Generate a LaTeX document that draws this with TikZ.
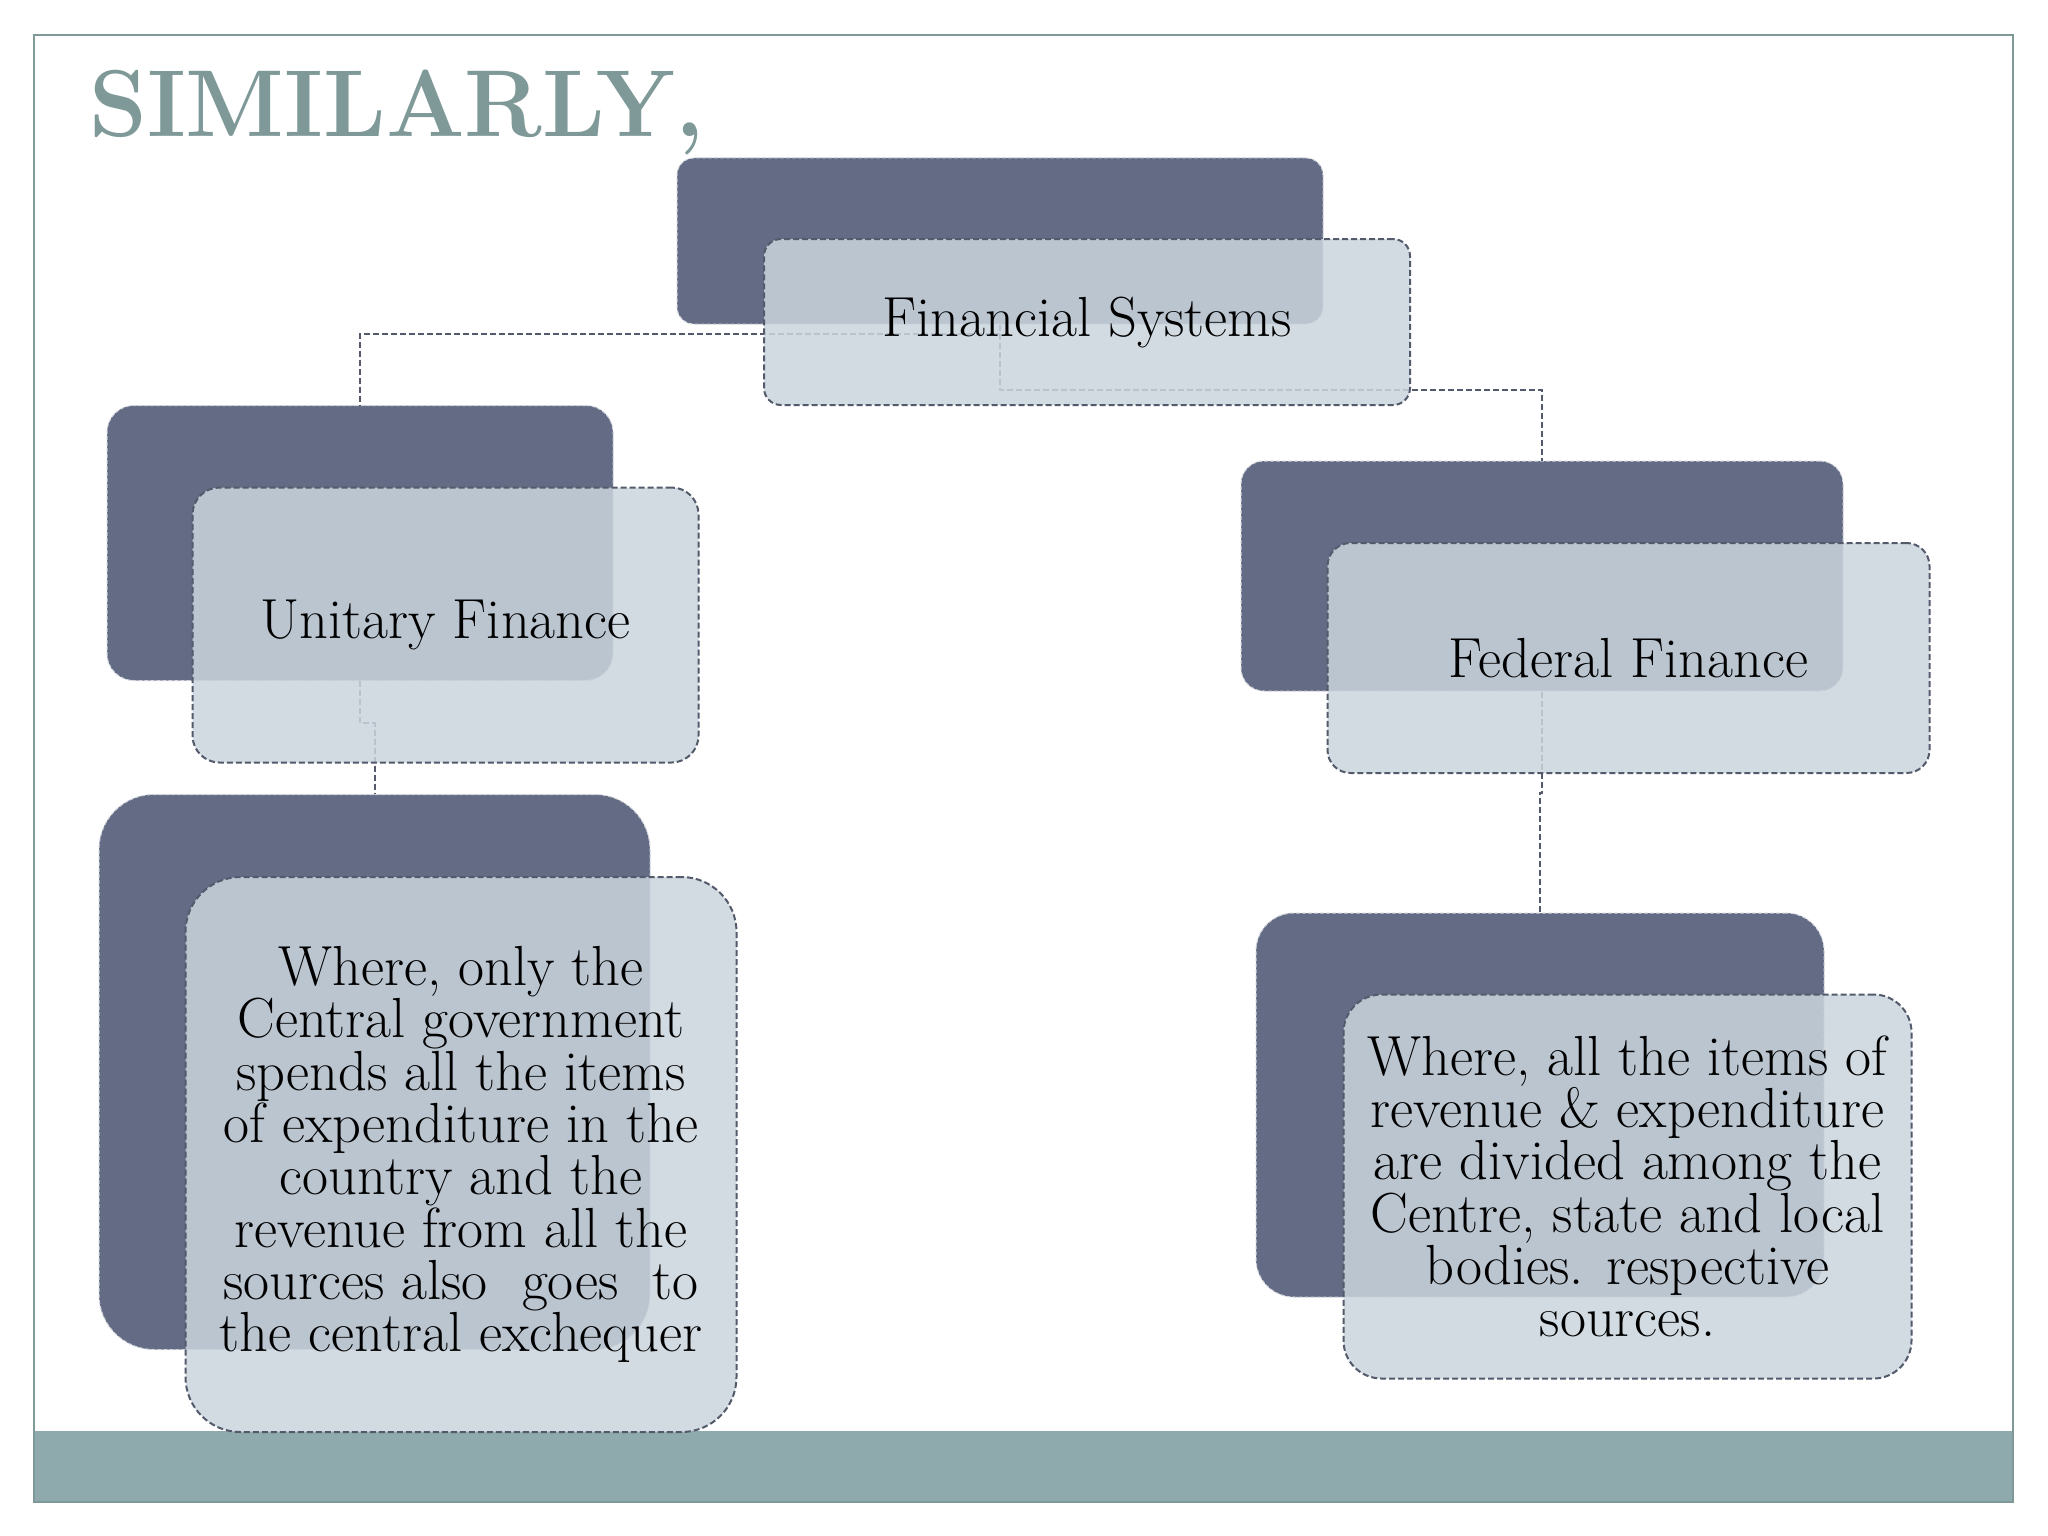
\documentclass[tikz,border=0pt]{standalone}
\usepackage{graphicx}
\usepackage{tikz}
\usetikzlibrary{calc}
\definecolor{slate}{HTML}{636B85}
\definecolor{mist}{HTML}{CBD5DE}
\definecolor{edgegray}{HTML}{545A6C}
\definecolor{sage}{HTML}{7F9999}
\definecolor{bandteal}{HTML}{8FAAAC}

\begin{document}
\begin{tikzpicture}[x=1pt, y=-1pt,
  every node/.style={inner sep=0pt, font=\fontsize{56.5}{52.3}\selectfont},
  backbox/.style={rectangle, fill=slate, draw=white!70!slate, dash pattern=on 4pt off 2pt, line width=1pt},
  frontbox/.style={rectangle, fill=mist, fill opacity=0.85, text opacity=1, draw=edgegray, dash pattern=on 6pt off 3pt, line width=2pt, align=center},
  link/.style={draw=edgegray, dash pattern=on 6pt off 3pt, line width=2pt}]
  \useasboundingbox (0,0) rectangle (2048,1536);
  \fill[white] (0,0) rectangle (2048,1536);
  % slide frame and footer band
  \fill[bandteal] (34,1431) rectangle (2013,1502);
  \draw[sage, line width=2pt] (34,35) rectangle (2013,1502);
  \node[anchor=base west, text=sage, font=\fontsize{95}{100}\selectfont\bfseries] (title) at (89,137) {\scalebox{0.975}[1]{SIMILARLY,}};
  % back cards
  \node[backbox, minimum width=646pt, minimum height=166pt, rounded corners=17pt] (fs-back) at (1000, 241) {};
  \node[backbox, minimum width=506pt, minimum height=275pt, rounded corners=27pt] (uf-back) at (360, 543) {};
  \node[backbox, minimum width=602pt, minimum height=230pt, rounded corners=23pt] (ff-back) at (1542, 576) {};
  \node[backbox, minimum width=551pt, minimum height=555pt, rounded corners=55pt] (ud-back) at (374.5, 1072) {};
  \node[backbox, minimum width=568pt, minimum height=384pt, rounded corners=38pt] (fd-back) at (1540, 1105) {};
  % connectors
  \draw[link] (fs-back.south) -- ++(0,9) -| (uf-back.north);
  \draw[link] (fs-back.south) -- ++(0,65) -| (ff-back.north);
  \draw[link] (uf-back.south) -- ++(0,42) -| (ud-back.north);
  \draw[link] (ff-back.south) -- ++(0,101) -| (fd-back.north);
  % front cards
  \node[frontbox, minimum width=646pt, minimum height=166pt, rounded corners=17pt] (fs) at (1087, 322) {Financial Systems};
  \node[frontbox, minimum width=506pt, minimum height=275pt, rounded corners=27pt] (uf) at (445.5, 625) {Unitary Finance};
  \node[frontbox, minimum width=602pt, minimum height=230pt, rounded corners=23pt] (ff) at (1628.5, 658) {Federal Finance};
  \node[frontbox, minimum width=551pt, minimum height=555pt, rounded corners=55pt] (ud) at (461, 1154.5) {Where, only the\\Central government\\spends all the items\\of expenditure in the\\country and the\\revenue from all the\\sources also\ \ goes\ \ to\\the central exchequer};
  \node[frontbox, minimum width=568pt, minimum height=384pt, rounded corners=38pt] (fd) at (1627.5, 1186.5) {Where, all the items of\\revenue \& expenditure\\are divided among the\\Centre, state and local\\bodies. respective\\sources.};
\end{tikzpicture}
\end{document}
